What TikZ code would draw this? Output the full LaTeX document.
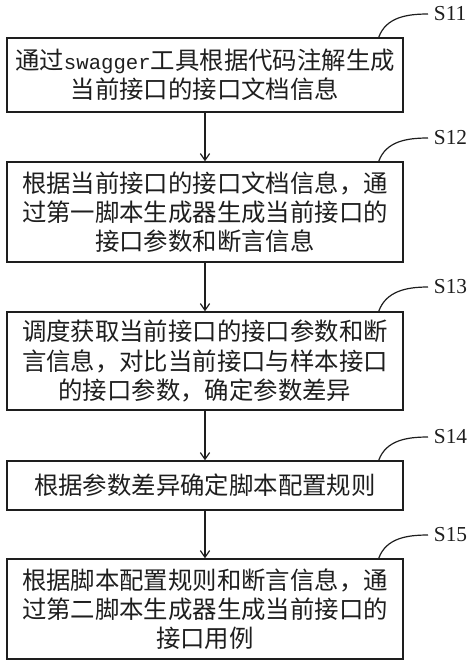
\documentclass[tikz,border=0pt]{standalone}
\usepackage{fontspec}
\setmainfont{Noto Sans CJK SC}
\newfontfamily\monofnt{Liberation Mono}
\newfontfamily\labfnt{Liberation Serif}
\usetikzlibrary{arrows.meta}
\definecolor{inkgray}{HTML}{1E1E1E}

\begin{document}
\begin{tikzpicture}[x=0.75pt, y=-0.75pt, >={Straight Barb[length=5pt, width=7pt]}, line width=0.9pt,
  stepbox/.style={
    draw=inkgray, line width=1.1pt, minimum width=297pt, minimum height=#1,
    align=center, inner sep=0pt, text=inkgray,
    font=\fontsize{18.3}{22}\selectfont
  },
  steplabel/.style={anchor=west, inner sep=4pt, text=inkgray,
    font=\labfnt\fontsize{16}{18}\selectfont}]

\useasboundingbox (0,0) rectangle (474,665);

% --- Step S11 ---
\node[stepbox=55.5pt] (s11) at (205,75)
  {通过{\monofnt\fontsize{15.5}{22}\selectfont swagger}工具根据代码注解生成\\
   当前接口的接口文档信息};

% --- Step S12 ---
\node[stepbox=75pt] (s12) at (205,212)
  {根据当前接口的接口文档信息，通\\
   过第一脚本生成器生成当前接口的\\
   接口参数和断言信息};

% --- Step S13 ---
\node[stepbox=73.5pt] (s13) at (205,361)
  {调度获取当前接口的接口参数和断\\
   言信息，对比当前接口与样本接口\\
   的接口参数，确定参数差异};

% --- Step S14 ---
\node[stepbox=36.75pt] (s14) at (205,485.5)
  {根据参数差异确定脚本配置规则};

% --- Step S15 ---
\node[stepbox=75pt] (s15) at (205,609)
  {根据脚本配置规则和断言信息，通\\
   过第二脚本生成器生成当前接口的\\
   接口用例};

% Arrows
\draw[inkgray, ->] (s11) -- (s12);
\draw[inkgray, ->] (s12) -- (s13);
\draw[inkgray, ->] (s13) -- (s14);
\draw[inkgray, ->] (s14) -- (s15);

% Step labels
\node[steplabel] (l11) at (428,14) {S11};
\node[steplabel] (l12) at (428,138) {S12};
\node[steplabel] (l13) at (428,287) {S13};
\node[steplabel] (l14) at (428,437) {S14};
\node[steplabel] (l15) at (428,535) {S15};

\draw[inkgray] (l11.west) to[out=180, in=70] ([xshift=-18.75pt]s11.north east);
\draw[inkgray] (l12.west) to[out=180, in=70] ([xshift=-18.75pt]s12.north east);
\draw[inkgray] (l13.west) to[out=180, in=70] ([xshift=-18.75pt]s13.north east);
\draw[inkgray] (l14.west) to[out=180, in=70] ([xshift=-18.75pt]s14.north east);
\draw[inkgray] (l15.west) to[out=180, in=70] ([xshift=-18.75pt]s15.north east);

\end{tikzpicture}
\end{document}
